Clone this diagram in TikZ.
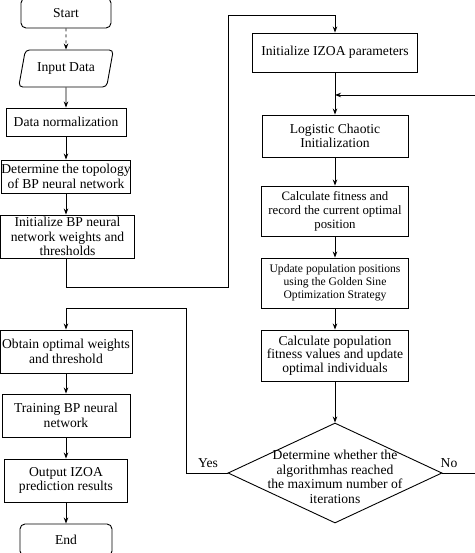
\documentclass[tikz,border=0pt]{standalone}
\usepackage{fontspec}
\setmainfont{Liberation Serif}
\usetikzlibrary{shapes.geometric,arrows.meta}
\begin{document}
\begin{tikzpicture}[x=1pt,y=-1pt,line width=0.9pt,
  every node/.style={font=\fontsize{13.6}{14.5}\selectfont,align=center,inner sep=0pt},
  box/.style={draw,rectangle},
  term/.style={draw,rounded corners=5pt},
  io/.style={draw,trapezium,trapezium left angle=68,trapezium right angle=112,
    trapezium stretches=true,rounded corners=4pt},
  decide/.style={draw,diamond},
  arr/.style={-{Stealth[length=6pt,width=4.5pt]}}]
  \useasboundingbox (0,0) rectangle (474,553);
  \node[term,minimum width=90,minimum height=30] (start) at (66,13) {Start};
  \node[io,minimum width=95,minimum height=37] (input) at (66,68.5) {Input Data};
  \node[box,minimum width=120,minimum height=28] (norm) at (66,122) {Data normalization};
  \node[box,minimum width=128,minimum height=33] (topo) at (66,176.5) {Determine the topology\\of BP neural network};
  \node[box,minimum width=134,minimum height=43] (initbp) at (67.5,236.5) {Initialize BP neural\\network weights and\\thresholds};
  \node[box,minimum width=165,minimum height=39] (izoa) at (335,52.5) {Initialize IZOA parameters};
  \node[box,minimum width=146,minimum height=42] (chaos) at (335,136) {Logistic Chaotic\\Initialization};
  \node[box,minimum width=147,minimum height=50,font=\fontsize{12.8}{14}\selectfont] (fit) at (335,211) {Calculate fitness and\\record the current optimal\\position};
  \node[box,minimum width=147,minimum height=50,font=\fontsize{11.6}{13}\selectfont] (golden) at (335,283) {Update population positions\\using the Golden Sine\\Optimization Strategy};
  \node[box,minimum width=147,minimum height=51,font=\fontsize{13.6}{13.5}\selectfont] (popfit) at (335,355.5) {Calculate population\\fitness values and update\\optimal individuals};
  \node[decide,minimum width=214,minimum height=100] (judge) at (335,473) {};
  \node (judgetxt) at (335,477) {Determine whether the\\algorithmhas reached\\the maximum number of\\iterations};
  \node[box,minimum width=132,minimum height=43] (obtain) at (66,351.5) {Obtain optimal weights\\and threshold};
  \node[box,minimum width=128,minimum height=43] (train) at (66,415.5) {Training BP neural\\network};
  \node[box,minimum width=123,minimum height=43] (output) at (66,480.5) {Output IZOA\\prediction results};
  \node[term,minimum width=92,minimum height=32] (finish) at (66,540) {End};
  \node (yes) at (208,463) {Yes};
  \node (no) at (449,463) {No};
  \coordinate (down1) at (228,287);
  \coordinate (up1) at (228,15);
  \coordinate (loopin) at (335,95);
  \coordinate (right1) at (477,473);
  \coordinate (yesup) at (186,308);
  \draw[arr,dashed] (start.south) -- (input.north);
  \draw[arr] (input.south) -- (norm.north);
  \draw[arr] (norm.south) -- (topo.north);
  \draw[arr] (topo.south) -- (topo.south |- initbp.north);
  \draw[arr] (initbp.south -| topo.south) |- (down1) -- (up1) -| (izoa.north);
  \draw[arr] (izoa.south) -- (chaos.north);
  \draw[arr] (chaos.south) -- (fit.north);
  \draw[arr] (fit.south) -- (golden.north);
  \draw[arr] (golden.south) -- (popfit.north);
  \draw[arr] (popfit.south) -- (judge.north);
  \draw[arr] (judge.east) -- (right1) |- (loopin);
  \draw[arr] (judge.west) -| (yesup) -| (obtain.north);
  \draw[arr] (obtain.south) -- (train.north);
  \draw[arr] (train.south) -- (output.north);
  \draw[arr] (output.south) -- (finish.north);
\end{tikzpicture}
\end{document}
